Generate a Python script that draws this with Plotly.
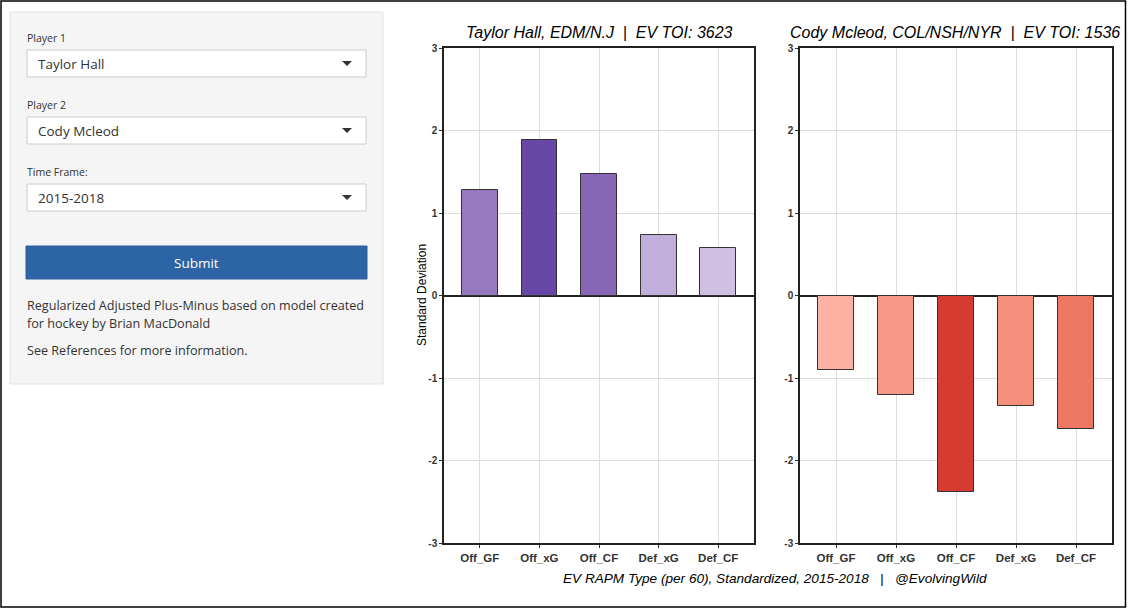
import plotly.graph_objects as go

W, H = 1129, 610

categories = ["Off_GF", "Off_xG", "Off_CF", "Def_xG", "Def_CF"]
p1_values = [1.28, 1.89, 1.47, 0.73, 0.58]
p2_values = [-0.90, -1.20, -2.38, -1.34, -1.62]
p1_colors = ["#9779c0", "#6848a6", "#8767b5", "#c2aedb", "#cfbfe3"]
p2_colors = ["#fcb1a2", "#f79887", "#d53b30", "#f38f7b", "#ec7763"]
p1_title = "Taylor Hall, EDM/N.J  |  EV TOI: 3623"
p2_title = "Cody Mcleod, COL/NSH/NYR  |  EV TOI: 1536"
x_title = "EV RAPM Type (per 60), Standardized, 2015-2018   |   @EvolvingWild"
y_title = "Standard Deviation"
y_ticks = [-3, -2, -1, 0, 1, 2, 3]
y_ticktext = ["-3", "-2", "-1", "0", "1", "2", "3"]

sidebar_labels = ["Player 1", "Player 2", "Time Frame:"]
sidebar_values = ["Taylor Hall", "Cody Mcleod", "2015-2018"]
note_lines = ["Regularized Adjusted Plus-Minus based on model created",
              "for hockey by Brian MacDonald"]
note2 = "See References for more information."


def X(px):
    return px / W


def Y(py):
    return 1 - py / H


fig = go.Figure()
fig.add_trace(go.Bar(x=categories, y=p1_values, width=0.6,
                     marker=dict(color=p1_colors, line=dict(color="#333333", width=1)),
                     xaxis="x", yaxis="y", showlegend=False))
fig.add_trace(go.Bar(x=categories, y=p2_values, width=0.6,
                     marker=dict(color=p2_colors, line=dict(color="#333333", width=1)),
                     xaxis="x2", yaxis="y2", showlegend=False))

ydom = [Y(543), Y(48)]
common_x = dict(type="category", range=[-0.6, 4.6], showgrid=True, gridcolor="#dcdcdc",
                gridwidth=1, showline=True, linecolor="#222222", linewidth=1.5, mirror=True,
                ticks="outside", ticklen=3, tickcolor="#333333", automargin=False,
                tickfont=dict(family="Liberation Sans, Arial", size=11.5, color="#333333", weight="bold"),
                fixedrange=True)
common_y = dict(range=[-3, 3], tickvals=y_ticks, ticktext=y_ticktext, showgrid=True, gridcolor="#dcdcdc",
                gridwidth=1, showline=True, linecolor="#222222", linewidth=1.5, mirror=True,
                zeroline=True, zerolinecolor="#222222", zerolinewidth=1.5,
                ticks="outside", ticklen=3, tickcolor="#333333", automargin=False,
                tickfont=dict(family="Liberation Sans, Arial", size=10, color="#333333", weight="bold"),
                fixedrange=True)

fig.update_layout(
    width=W, height=H, margin=dict(l=0, r=0, t=0, b=0, pad=0), autosize=False,
    paper_bgcolor="white", plot_bgcolor="white",
    bargap=0, showlegend=False,
    xaxis=dict(domain=[X(444), X(754)], anchor="y", **common_x),
    yaxis=dict(domain=ydom, anchor="x", **common_y),
    xaxis2=dict(domain=[X(800), X(1112)], anchor="y2", **common_x),
    yaxis2=dict(domain=ydom, anchor="x2", **common_y),
)

shapes = []
annotations = []

# outer frame
shapes.append(dict(type="rect", xref="paper", yref="paper", x0=X(1), x1=X(1125.5), y0=Y(607), y1=Y(1),
                   line=dict(color="#000000", width=1.5), fillcolor="rgba(0,0,0,0)", layer="above"))

# sidebar panel
shapes.append(dict(type="rect", xref="paper", yref="paper", x0=X(10), x1=X(383), y0=Y(384), y1=Y(12),
                   line=dict(color="#e3e3e3", width=1), fillcolor="#f5f5f5", layer="below"))

label_y = [38, 105, 172]
box_top = [50, 117, 184]
for lab, val, ly, bt in zip(sidebar_labels, sidebar_values, label_y, box_top):
    annotations.append(dict(xref="paper", yref="paper", x=X(25), y=Y(ly), text=lab, showarrow=False,
                            xanchor="left", yanchor="middle",
                            font=dict(family="Open Sans", size=10.5, color="#333333")))
    shapes.append(dict(type="rect", xref="paper", yref="paper", x0=X(27), x1=X(366), y0=Y(bt + 27), y1=Y(bt),
                       line=dict(color="#cccccc", width=1), fillcolor="white", layer="below"))
    annotations.append(dict(xref="paper", yref="paper", x=X(36), y=Y(bt + 14), text=val, showarrow=False,
                            xanchor="left", yanchor="middle",
                            font=dict(family="Open Sans", size=13.5, color="#333333")))
    cy = bt + 13
    shapes.append(dict(type="path", xref="paper", yref="paper",
                       path=f"M {X(342)},{Y(cy - 2)} L {X(352)},{Y(cy - 2)} L {X(347)},{Y(cy + 3)} Z",
                       fillcolor="#333333", line=dict(color="#333333", width=0)))

# submit button
shapes.append(dict(type="rect", xref="paper", yref="paper", x0=X(26), x1=X(367), y0=Y(279), y1=Y(246),
                   line=dict(color="#2a5f9e", width=1), fillcolor="#2c64a6", layer="below"))
annotations.append(dict(xref="paper", yref="paper", x=X(196.5), y=Y(262.5), text="Submit", showarrow=False,
                        xanchor="center", yanchor="middle",
                        font=dict(family="Open Sans", size=13.5, color="white")))

for i, line in enumerate(note_lines):
    annotations.append(dict(xref="paper", yref="paper", x=X(25), y=Y(305 + 18 * i), text=line, showarrow=False,
                            xanchor="left", yanchor="middle",
                            font=dict(family="Open Sans", size=12.6, color="#333333")))
annotations.append(dict(xref="paper", yref="paper", x=X(25), y=Y(350), text=note2, showarrow=False,
                        xanchor="left", yanchor="middle",
                        font=dict(family="Open Sans", size=12.6, color="#333333")))

# titles
annotations.append(dict(xref="paper", yref="paper", x=X(599), y=Y(33), text=p1_title, showarrow=False,
                        xanchor="center", yanchor="middle",
                        font=dict(family="Liberation Sans, Arial", size=16, color="#000000", style="italic")))
annotations.append(dict(xref="paper", yref="paper", x=X(955), y=Y(33), text=p2_title, showarrow=False,
                        xanchor="center", yanchor="middle",
                        font=dict(family="Liberation Sans, Arial", size=16, color="#000000", style="italic")))
annotations.append(dict(xref="paper", yref="paper", x=X(422), y=Y(295), text=y_title, showarrow=False,
                        textangle=-90, xanchor="center", yanchor="middle",
                        font=dict(family="Liberation Sans, Arial", size=12, color="#000000")))
annotations.append(dict(xref="paper", yref="paper", x=X(775), y=Y(578), text=x_title, showarrow=False,
                        xanchor="center", yanchor="middle",
                        font=dict(family="Liberation Sans, Arial", size=13.6, color="#000000", style="italic")))

fig.update_layout(shapes=shapes, annotations=annotations)

fig.write_html("out.html", config={"displayModeBar": False})
